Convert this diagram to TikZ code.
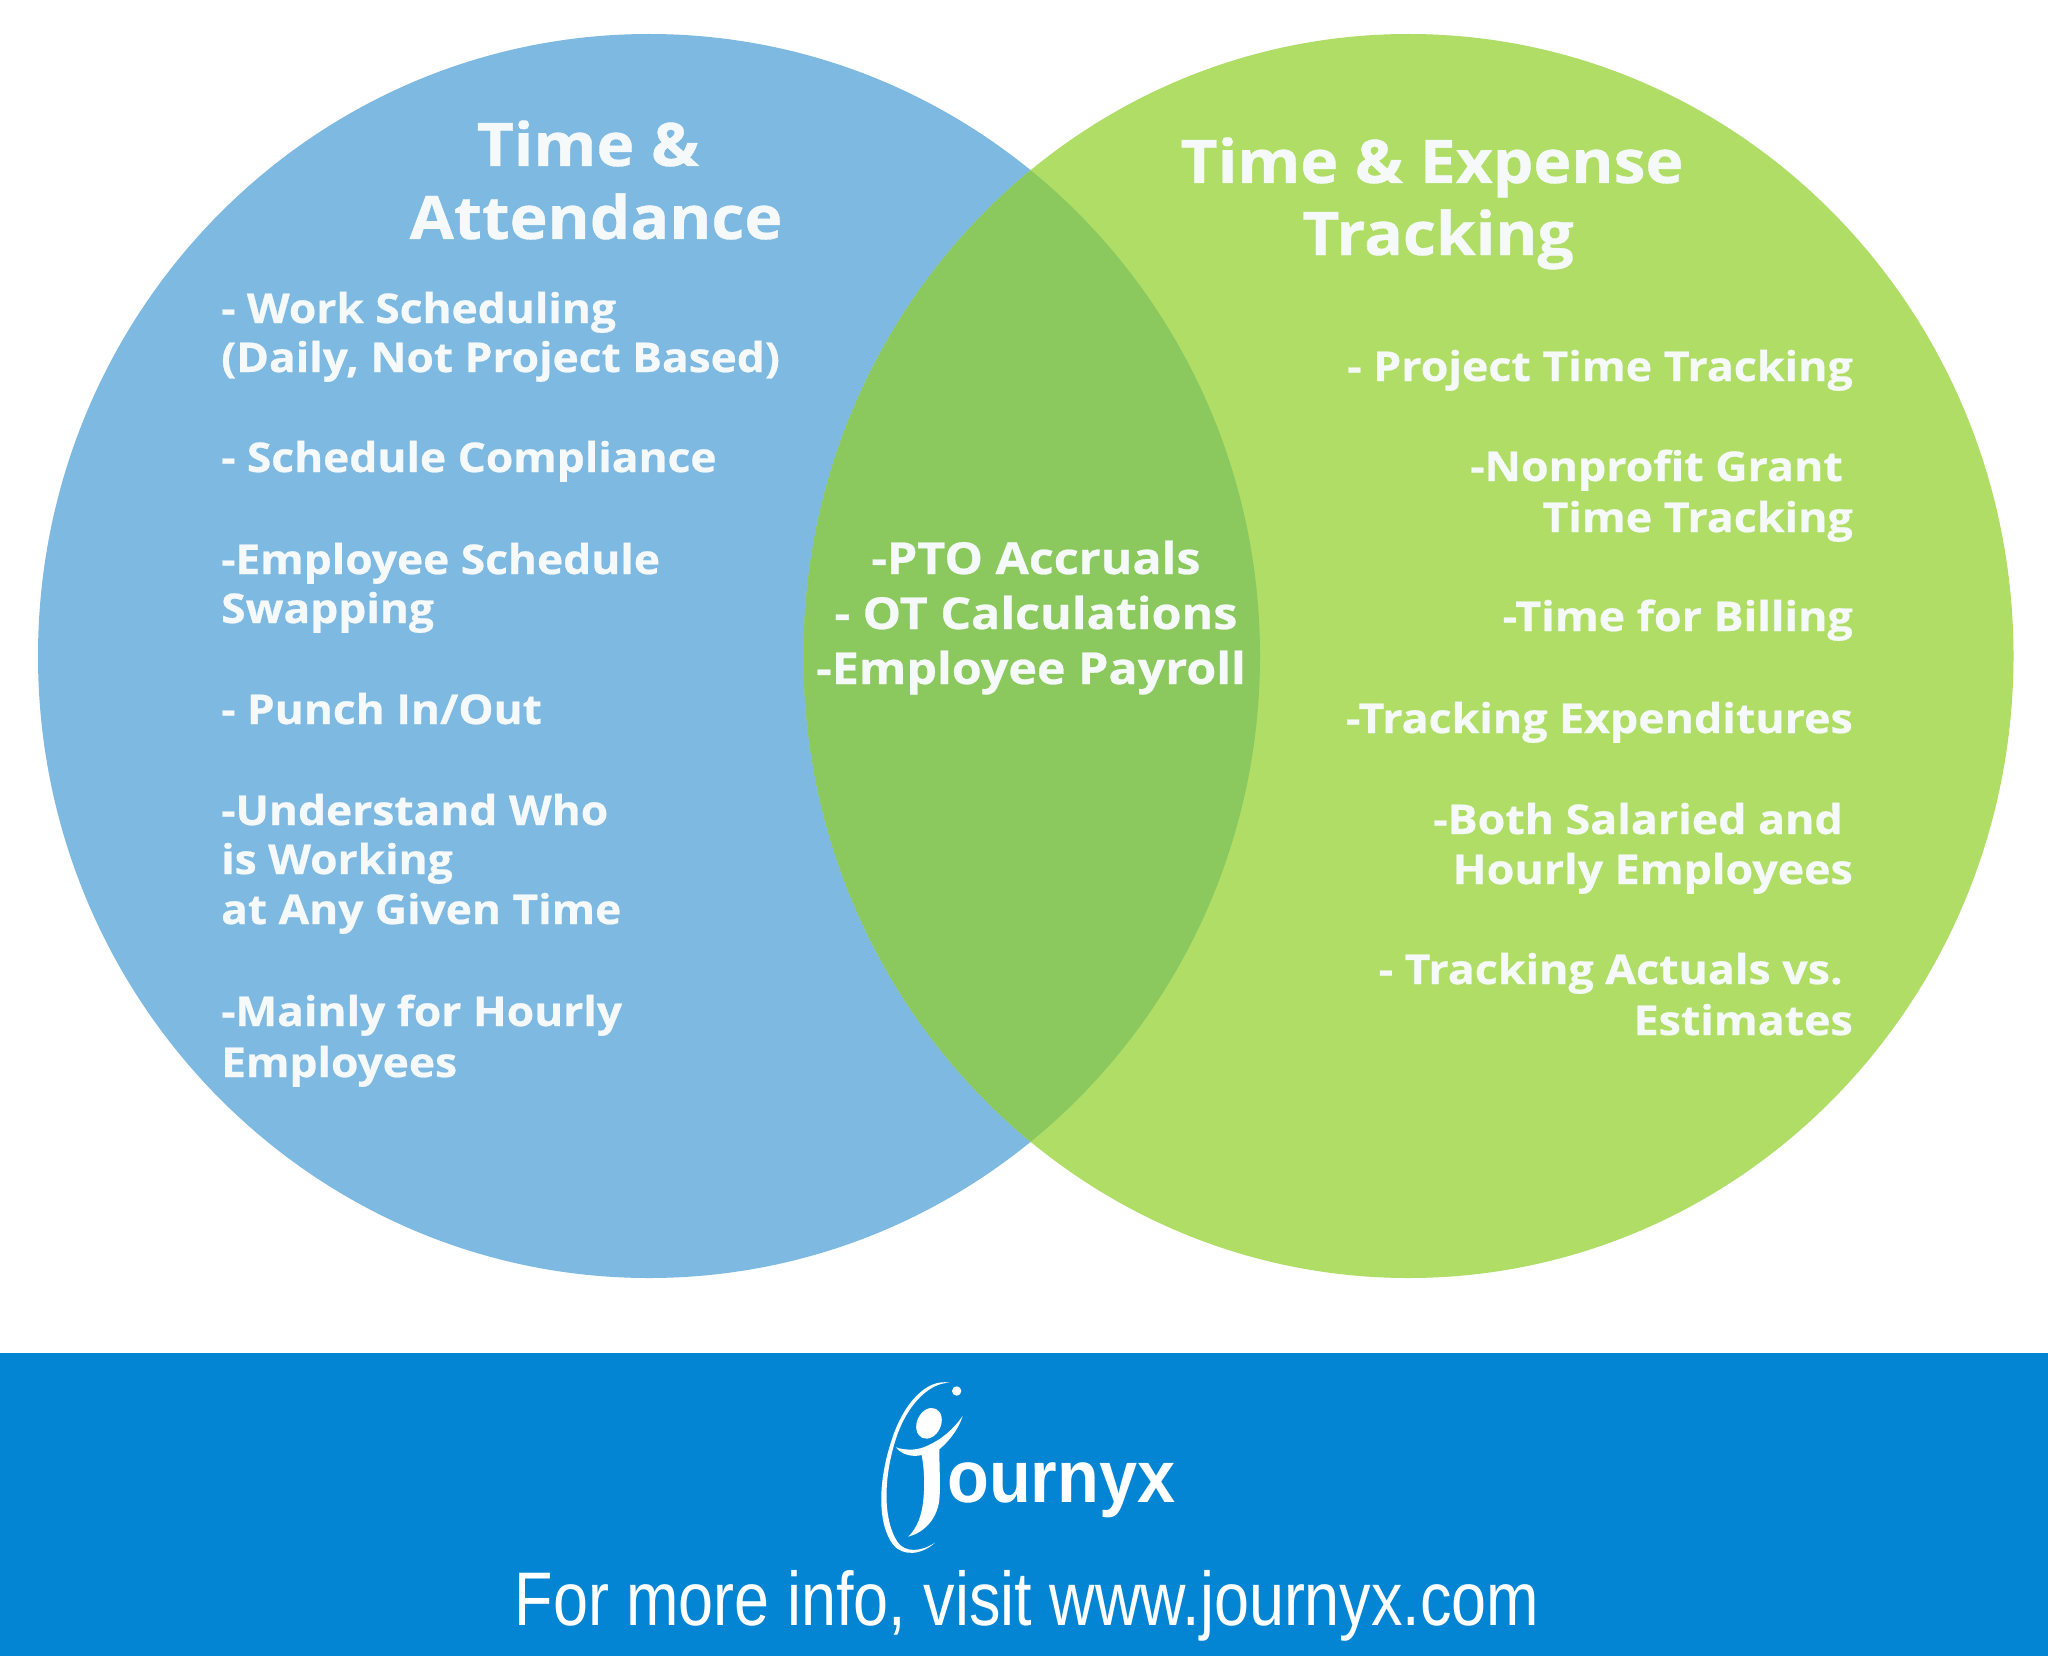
\documentclass[tikz,border=0pt]{standalone}
\usepackage{fontspec}
\setmainfont{Open Sans}[BoldFeatures={FakeBold=0.6}]
\newfontfamily\logofont{Liberation Sans}
\definecolor{leftblue}{HTML}{7DB9E0}
\definecolor{rightgreen}{HTML}{AFDD66}
\definecolor{overlapgreen}{HTML}{8BC95E}
\definecolor{banner}{HTML}{0385D3}
\definecolor{softwhite}{HTML}{F6F9FA}
\tikzset{
  vtitle/.style={text=softwhite,inner sep=0pt,anchor=base,font=\fontsize{60}{60}\bfseries\selectfont,xscale=1.07,transform shape},
  vleft/.style={text=softwhite,inner sep=0pt,anchor=base west,font=\fontsize{41}{41}\bfseries\selectfont,xscale=1.08,transform shape},
  vright/.style={text=softwhite,inner sep=0pt,anchor=base east,font=\fontsize{41}{41}\bfseries\selectfont,xscale=1.09,transform shape},
  vmid/.style={text=softwhite,inner sep=0pt,anchor=base,font=\fontsize{44}{44}\bfseries\selectfont,xscale=1.10,transform shape},
}
\begin{document}
\begin{tikzpicture}[x=1pt,y=-1pt]
\useasboundingbox (0,0) rectangle (2048,1656);
\fill[white] (0,0) rectangle (2048,1656);
\fill[leftblue] (649,656) ellipse [x radius=611,y radius=622];
\fill[rightgreen] (1408.5,656) ellipse [x radius=605,y radius=622];
\begin{scope}
\clip (649,656) ellipse [x radius=611,y radius=622];
\fill[overlapgreen] (1408.5,656) ellipse [x radius=605,y radius=622];
\end{scope}
\fill[banner] (0,1353) rectangle (2048,1656);
% titles
\node[vtitle] (t1) at (588,166) {Time \&};
\node[vtitle] (t2) at (596,239) {Attendance};
\node[vtitle] (t3) at (1432,183) {Time \& Expense};
\node[vtitle] (t4) at (1438,255) {Tracking};
% left list
\node[vleft] (l1) at (221,323) {- Work Scheduling};
\node[vleft] (l2) at (221,372) {(Daily, Not Project Based)};
\node[vleft] (l3) at (221,472) {- Schedule Compliance};
\node[vleft] (l4) at (221,574) {-Employee Schedule};
\node[vleft] (l5) at (221,623) {Swapping};
\node[vleft] (l6) at (221,724) {- Punch In/Out};
\node[vleft] (l7) at (221,825) {-Understand Who};
\node[vleft] (l8) at (221,874) {is Working};
\node[vleft] (l9) at (221,924) {at Any Given Time};
\node[vleft] (l10) at (221,1026) {-Mainly for Hourly};
\node[vleft] (l11) at (221,1077) {Employees};
% right list
\node[vright] (r1) at (1853,381) {- Project Time Tracking};
\node[vright] (r2) at (1843,481) {-Nonprofit Grant};
\node[vright] (r3) at (1853,532) {Time Tracking};
\node[vright] (r4) at (1853,631) {-Time for Billing};
\node[vright] (r5) at (1853,733) {-Tracking Expenditures};
\node[vright] (r6) at (1843,834) {-Both Salaried and};
\node[vright] (r7) at (1853,884) {Hourly Employees};
\node[vright] (r8) at (1843,984) {- Tracking Actuals vs.};
\node[vright] (r9) at (1853,1035) {Estimates};
% middle
\node[vmid] (m1) at (1036,574) {-PTO Accruals};
\node[vmid] (m2) at (1036,629) {- OT Calculations};
\node[vmid] (m3) at (1031,684) {-Employee Payroll};
% logo
\begin{scope}[shift={(820,1360)},x=0.3333pt,y=-0.3333pt]
\fill[white] (410,93) circle [radius=14];
\fill[white,rotate around={-25:(327,190)}] (327,190) ellipse [x radius=36,y radius=48];
\fill[white] (228,262) .. controls (250,270) and (285,272) .. (310,262)
  .. controls (355,245) and (395,215) .. (428,168)
  .. controls (415,210) and (385,245) .. (358,268)
  .. controls (358,320) and (362,380) .. (358,420)
  .. controls (352,470) and (320,515) .. (265,530)
  .. controls (290,505) and (305,470) .. (310,420)
  .. controls (315,370) and (312,320) .. (305,285)
  .. controls (280,292) and (245,285) .. (228,262) -- cycle;
\fill[white] (388,68) .. controls (320,55) and (250,130) .. (215,240)
  .. controls (175,360) and (170,490) .. (220,555)
  .. controls (250,590) and (305,585) .. (345,548)
  .. controls (305,575) and (255,580) .. (232,545)
  .. controls (190,480) and (190,360) .. (225,245)
  .. controls (255,145) and (320,70) .. (388,68) -- cycle;
\end{scope}
\node[text=white,inner sep=0pt,anchor=base west,font=\logofont\fontsize{74}{74}\bfseries\selectfont,xscale=.925,transform shape] (logo) at (947,1502) {ournyx};
\node[text=white,inner sep=0pt,anchor=base,font=\logofont\fontsize{76}{76}\selectfont,xscale=.828,transform shape] (foot) at (1027,1625) {For more info, visit www.journyx.com};
\end{tikzpicture}
\end{document}
